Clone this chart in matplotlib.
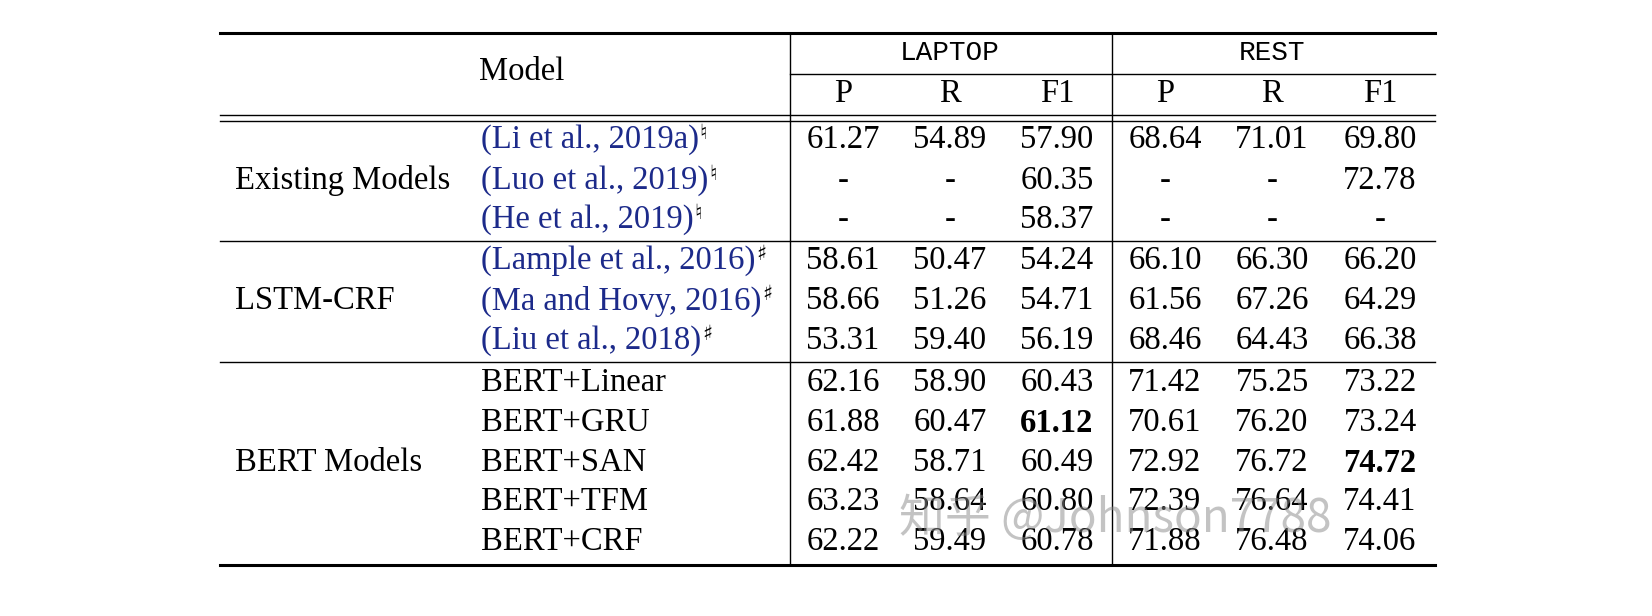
import matplotlib
matplotlib.use("Agg")
import matplotlib.pyplot as plt

groups = ["Existing Models", "LSTM-CRF", "BERT Models"]
group_sizes = [3, 3, 5]
models = ["(Li et al., 2019a)", "(Luo et al., 2019)", "(He et al., 2019)",
          "(Lample et al., 2016)", "(Ma and Hovy, 2016)", "(Liu et al., 2018)",
          "BERT+Linear", "BERT+GRU", "BERT+SAN", "BERT+TFM", "BERT+CRF"]
marks = ["♮"] * 3 + ["♯"] * 3 + [""] * 5
laptop_p = ["61.27", "-", "-", "58.61", "58.66", "53.31", "62.16", "61.88", "62.42", "63.23", "62.22"]
laptop_r = ["54.89", "-", "-", "50.47", "51.26", "59.40", "58.90", "60.47", "58.71", "58.64", "59.49"]
laptop_f1 = ["57.90", "60.35", "58.37", "54.24", "54.71", "56.19", "60.43", "61.12", "60.49", "60.80", "60.78"]
rest_p = ["68.64", "-", "-", "66.10", "61.56", "68.46", "71.42", "70.61", "72.92", "72.39", "71.88"]
rest_r = ["71.01", "-", "-", "66.30", "67.26", "64.43", "75.25", "76.20", "76.72", "76.64", "76.48"]
rest_f1 = ["69.80", "72.78", "-", "66.20", "64.29", "66.38", "73.22", "73.24", "74.72", "74.41", "74.06"]
bold_cells = {(7, 2), (8, 5)}

fig = plt.figure(figsize=(16.52, 6.16), dpi=100)
ax = fig.add_axes([0, 0, 1, 1])
ax.set_xlim(0, 1652); ax.set_ylim(616, 0); ax.axis("off")

serif = "Liberation Serif"
fs = 23.5
blue = "#1c2a8a"
L, R = 220, 1435
ax.plot([L, R], [33, 33], color="k", lw=2.2)
ax.plot([790, R], [74, 74], color="k", lw=1)
ax.plot([L, R], [115, 115], color="k", lw=1)
ax.plot([L, R], [121, 121], color="k", lw=1)
ax.plot([L, R], [241, 241], color="k", lw=1)
ax.plot([L, R], [362, 362], color="k", lw=1)
ax.plot([L, R], [565, 565], color="k", lw=2.2)
for x in [790, 1112]:
    ax.plot([x, x], [33, 565], color="k", lw=1)

ax.text(522, 72, "Model", ha="center", va="center", fontsize=fs, family=serif)
ax.text(950, 53, "LAPTOP", ha="center", va="center", fontsize=20, family="Liberation Mono")
ax.text(1272, 53, "REST", ha="center", va="center", fontsize=20, family="Liberation Mono")
colx = [843, 950, 1057, 1165, 1272, 1380]
for x, h in zip(colx, ["P", "R", "F1"] * 2):
    ax.text(x, 94, h, ha="center", va="center", fontsize=fs, family=serif)

rows_y = [140, 181, 220, 261, 301, 341, 383, 423, 463, 502, 542]
i = 0
for g, n in zip(groups, group_sizes):
    yc = (rows_y[i] + rows_y[i + n - 1]) / 2
    ax.text(235, yc, g, ha="left", va="center", fontsize=fs, family=serif)
    i += n
cols = [laptop_p, laptop_r, laptop_f1, rest_p, rest_r, rest_f1]
for r, y in enumerate(rows_y):
    m = models[r]
    if marks[r]:
        t = ax.text(481, y, m, ha="left", va="center", fontsize=fs, family=serif, color=blue)
        ax.annotate(marks[r], xycoords=t, xy=(1, 0.5), xytext=(0.5, 5),
                    textcoords="offset points", va="center", ha="left", fontsize=15,
                    family="DejaVu Sans", color="k")
    else:
        ax.text(481, y, m, ha="left", va="center", fontsize=fs, family=serif)
    for c, (x, col) in enumerate(zip(colx, cols)):
        ax.text(x, y, col[r], ha="center", va="center", fontsize=fs, family=serif,
                weight="bold" if (r, c) in bold_cells else "normal")

ax.text(1115, 519, "知乎 @Johnson7788", ha="center", va="center", fontsize=33,
        family=["Noto Sans CJK SC", "DejaVu Sans"], color="#888888", alpha=0.5)
fig.savefig("out.png", dpi=100)
